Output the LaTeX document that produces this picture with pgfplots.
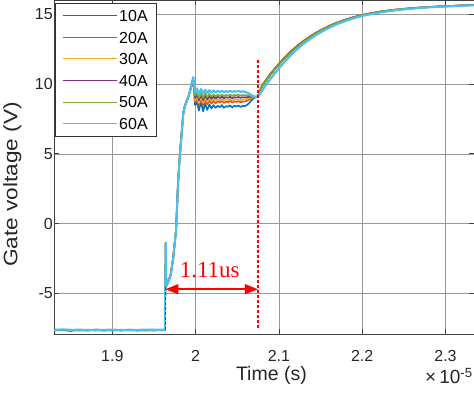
\documentclass[border=0pt]{standalone}
\usepackage{pgfplots}
\pgfplotsset{compat=1.18}
\usepackage{pgfplotstable}
\usepackage{graphicx}
\usepackage{fontspec}
\setmainfont{Liberation Sans}
\newfontfamily\timesfont{Liberation Serif}
\usetikzlibrary{arrows.meta}
\definecolor{c1}{rgb}{0,0.447,0.741}
\definecolor{c2}{rgb}{0.85,0.325,0.098}
\definecolor{c3}{rgb}{0.929,0.694,0.125}
\definecolor{c4}{rgb}{0.494,0.184,0.556}
\definecolor{c5}{rgb}{0.466,0.674,0.188}
\definecolor{c6}{rgb}{0.301,0.745,0.933}
\pgfplotstableread{
t a b c d e f
1.830 -7.66 -7.62 -7.64 -7.60 -7.63 -7.61
1.840 -7.62 -7.65 -7.60 -7.63 -7.61 -7.58
1.850 -7.68 -7.61 -7.63 -7.66 -7.60 -7.62
1.860 -7.63 -7.64 -7.67 -7.61 -7.64 -7.59
1.870 -7.65 -7.60 -7.62 -7.64 -7.66 -7.63
1.880 -7.61 -7.66 -7.64 -7.62 -7.60 -7.60
1.890 -7.67 -7.62 -7.60 -7.65 -7.63 -7.62
1.900 -7.62 -7.64 -7.66 -7.61 -7.65 -7.59
1.910 -7.66 -7.61 -7.63 -7.64 -7.60 -7.63
1.920 -7.63 -7.65 -7.61 -7.62 -7.64 -7.60
1.930 -7.65 -7.62 -7.65 -7.66 -7.61 -7.62
1.940 -7.61 -7.66 -7.62 -7.63 -7.65 -7.59
1.950 -7.66 -7.63 -7.64 -7.60 -7.62 -7.61
1.960 -7.63 -7.61 -7.62 -7.65 -7.63 -7.60
1.9630 -7.60 -7.62 -7.61 -7.63 -7.60 -7.62
1.9636 -4.60 -4.55 -4.62 -4.58 -4.60 -4.57
1.9642 -1.40 -1.45 -1.42 -1.38 -1.44 -1.41
1.9648 -4.45 -4.50 -4.48 -4.46 -4.50 -4.47
1.9670 -4.20 -4.15 -4.18 -4.22 -4.17 -4.20
1.9700 -3.70 -3.65 -3.72 -3.68 -3.66 -3.75
1.9730 -2.50 -2.45 -2.52 -2.48 -2.46 -2.55
1.9765 -0.50 -0.40 -0.45 -0.48 -0.42 -0.55
1.9790 3.00 3.10 3.05 3.02 3.08 2.95
1.9810 4.80 4.90 4.85 4.82 4.88 4.75
1.9833 6.50 6.60 6.55 6.52 6.58 6.45
1.9852 7.90 7.95 7.92 7.90 7.94 7.85
1.9870 8.40 8.45 8.42 8.40 8.44 8.38
1.9895 8.80 8.85 8.82 8.84 8.86 8.80
1.9915 9.10 9.15 9.12 9.14 9.16 9.12
1.9935 9.50 9.55 9.55 9.58 9.60 9.60
1.9953 9.90 9.95 9.98 10.00 10.05 10.10
1.9972 10.30 10.32 10.35 10.38 10.40 10.50
1.9993 8.50 8.70 8.85 9.00 9.15 9.40
2.0015 8.70 8.95 9.10 9.25 9.40 9.70
2.0040 8.10 8.45 8.65 8.85 9.00 9.30
2.0065 8.75 9.00 9.10 9.25 9.38 9.65
2.0090 8.05 8.45 8.65 8.85 9.02 9.32
2.0115 8.60 8.90 9.05 9.20 9.33 9.60
2.0140 8.15 8.55 8.72 8.90 9.06 9.35
2.0165 8.55 8.85 9.00 9.15 9.30 9.57
2.0190 8.25 8.60 8.78 8.95 9.10 9.38
2.0215 8.50 8.80 8.95 9.12 9.27 9.55
2.0240 8.30 8.62 8.80 8.97 9.13 9.40
2.0265 8.45 8.78 8.93 9.10 9.25 9.52
2.0290 8.35 8.68 8.83 9.00 9.15 9.42
2.0315 8.50 8.80 8.95 9.10 9.26 9.53
2.0340 8.30 8.65 8.82 8.98 9.14 9.41
2.0365 8.42 8.75 8.90 9.07 9.23 9.50
2.0390 8.38 8.70 8.86 9.02 9.18 9.44
2.0415 8.48 8.80 8.94 9.09 9.25 9.52
2.0440 8.33 8.68 8.84 9.00 9.16 9.43
2.0465 8.45 8.77 8.92 9.07 9.23 9.50
2.0490 8.40 8.72 8.87 9.03 9.19 9.46
2.0515 8.47 8.78 8.93 9.08 9.24 9.51
2.0540 8.36 8.70 8.86 9.02 9.18 9.44
2.0565 8.45 8.76 8.91 9.06 9.22 9.48
2.0590 8.42 8.74 8.90 9.05 9.20 9.45
2.0615 8.50 8.80 8.94 9.07 9.20 9.40
2.0640 8.62 8.88 8.98 9.08 9.18 9.32
2.0665 8.80 8.97 9.03 9.10 9.16 9.24
2.0690 8.95 9.03 9.06 9.10 9.13 9.15
2.0715 9.05 9.08 9.08 9.10 9.11 9.08
2.0745 9.12 9.12 9.10 9.11 9.10 9.05
2.0800 9.85 9.95 9.92 9.90 9.88 9.55
2.0850 10.27 10.37 10.33 10.31 10.28 9.98
2.0900 10.68 10.77 10.72 10.71 10.66 10.38
2.0950 11.05 11.12 11.09 11.07 11.03 10.76
2.1000 11.42 11.47 11.43 11.42 11.37 11.12
2.1050 11.74 11.80 11.76 11.75 11.71 11.47
2.1100 12.06 12.11 12.07 12.06 12.02 11.80
2.1150 12.35 12.39 12.35 12.36 12.31 12.11
2.1200 12.62 12.66 12.62 12.62 12.58 12.40
2.1250 12.87 12.90 12.87 12.86 12.83 12.66
2.1300 13.10 13.13 13.10 13.09 13.06 12.91
2.1400 13.51 13.53 13.51 13.50 13.47 13.34
2.1500 13.86 13.87 13.86 13.85 13.82 13.71
2.1600 14.16 14.17 14.16 14.15 14.13 14.03
2.1700 14.41 14.42 14.41 14.40 14.38 14.30
2.1800 14.62 14.63 14.62 14.62 14.60 14.53
2.1900 14.80 14.81 14.80 14.80 14.78 14.72
2.2000 14.95 14.96 14.95 14.95 14.94 14.88
2.2100 15.07 15.08 15.07 15.07 15.06 15.01
2.2200 15.18 15.19 15.18 15.18 15.17 15.12
2.2300 15.26 15.27 15.26 15.26 15.26 15.21
2.2400 15.33 15.34 15.33 15.33 15.33 15.29
2.2500 15.39 15.40 15.39 15.39 15.39 15.35
2.2600 15.44 15.45 15.44 15.44 15.44 15.41
2.2700 15.49 15.49 15.49 15.49 15.48 15.46
2.2800 15.52 15.53 15.52 15.52 15.52 15.50
2.2900 15.56 15.56 15.56 15.56 15.55 15.53
2.3000 15.59 15.59 15.59 15.59 15.58 15.56
2.3100 15.61 15.62 15.61 15.61 15.61 15.59
2.3200 15.64 15.64 15.64 15.64 15.63 15.62
2.3340 15.67 15.67 15.67 15.67 15.66 15.65
}\datatable
\begin{document}
\begin{tikzpicture}
\useasboundingbox (-54.5pt,-60.7pt) rectangle (419.5pt,334.3pt);
\begin{axis}[
  name=ax,
  at={(0pt,0pt)}, anchor=south west,
  scale only axis, width=419.5pt, height=334.3pt,
  xmin=1.8306, xmax=2.3342, ymin=-7.93, ymax=16.03,
  xtick={1.9,2,2.1,2.2,2.3}, ytick={-5,0,5,10,15},
  grid=major, grid style={black!40, line width=0.7pt},
  axis line style={black!75, line width=0.9pt},
  tick style={black!75, line width=0.8pt},
  tick align=inside, major tick length=5pt,
  /pgf/number format/assume math mode=true,
  tick label style={font=\fontsize{16}{16}\selectfont, black!85},
  xticklabel style={yshift=-12pt},
  yticklabel style={xshift=1.8pt},
  xlabel={Time (s)},
  ylabel={\scalebox{1.16}[1]{Gate voltage (V)}},
  label style={font=\fontsize{19.5}{20}\selectfont, black!85},
  xlabel style={at={(axis description cs:0.517,-0.1388)}, anchor=base},
  ylabel style={at={(axis description cs:-0.0887,0.448)}, anchor=base},
  legend cell align=left,
  legend image code/.code={\draw[#1, line width=1.1pt] (0pt,0pt) -- (54pt,0pt);},
  legend style={at={(axis description cs:0.001,0.991)}, anchor=north west,
    draw=none, fill=white, inner xsep=7pt, inner ysep=5.7pt,
    row sep=8.1pt, font=\fontsize{16}{16}\selectfont,
    nodes={inner xsep=2pt, inner ysep=1pt, text height=11.5pt, text depth=0pt}},
  every axis plot/.append style={line join=round, no marks},
]
\addplot[c1, line width=1.6pt] table[x=t,y=a] {\datatable};
\addlegendentry{10A}
\addplot[c2, line width=1.6pt] table[x=t,y=b] {\datatable};
\addlegendentry{20A}
\addplot[c3, line width=1.6pt] table[x=t,y=c] {\datatable};
\addlegendentry{30A}
\addplot[c4, line width=1.6pt] table[x=t,y=d] {\datatable};
\addlegendentry{40A}
\addplot[c5, line width=1.6pt] table[x=t,y=e] {\datatable};
\addlegendentry{50A}
\addplot[c6, line width=2.1pt] table[x=t,y=f] {\datatable};
\addlegendentry{60A}
\addplot[red, dash pattern=on 3pt off 2pt, line width=1.3pt, forget plot] coordinates {(1.9638,-7.6) (1.9638,-4.5)};
\addplot[red, dash pattern=on 3pt off 2pt, line width=1.3pt, forget plot] coordinates {(2.0748,-7.45) (2.0748,11.75)};
\addplot[red, line width=1.6pt, {Triangle[length=13pt,width=10pt]}-{Triangle[length=13pt,width=10pt]}, forget plot] coordinates {(1.9638,-4.7) (2.0748,-4.7)};
\node[anchor=base, text=red, font=\timesfont\fontsize{23}{23}\selectfont, inner sep=0pt] at (axis cs:2.0169,-3.89) {1.11us};
\end{axis}
\draw[black!80, line width=0.7pt] ([xshift=0.6pt,yshift=-3pt]ax.north west) rectangle ([xshift=101.5pt,yshift=-136pt]ax.north west);
\node[anchor=base east, font=\fontsize{19}{19}\selectfont, text=black!85, inner sep=0pt] at ([xshift=-1pt,yshift=-49pt]ax.south east) {×\,10\textsuperscript{-5}};
\end{tikzpicture}
\end{document}
